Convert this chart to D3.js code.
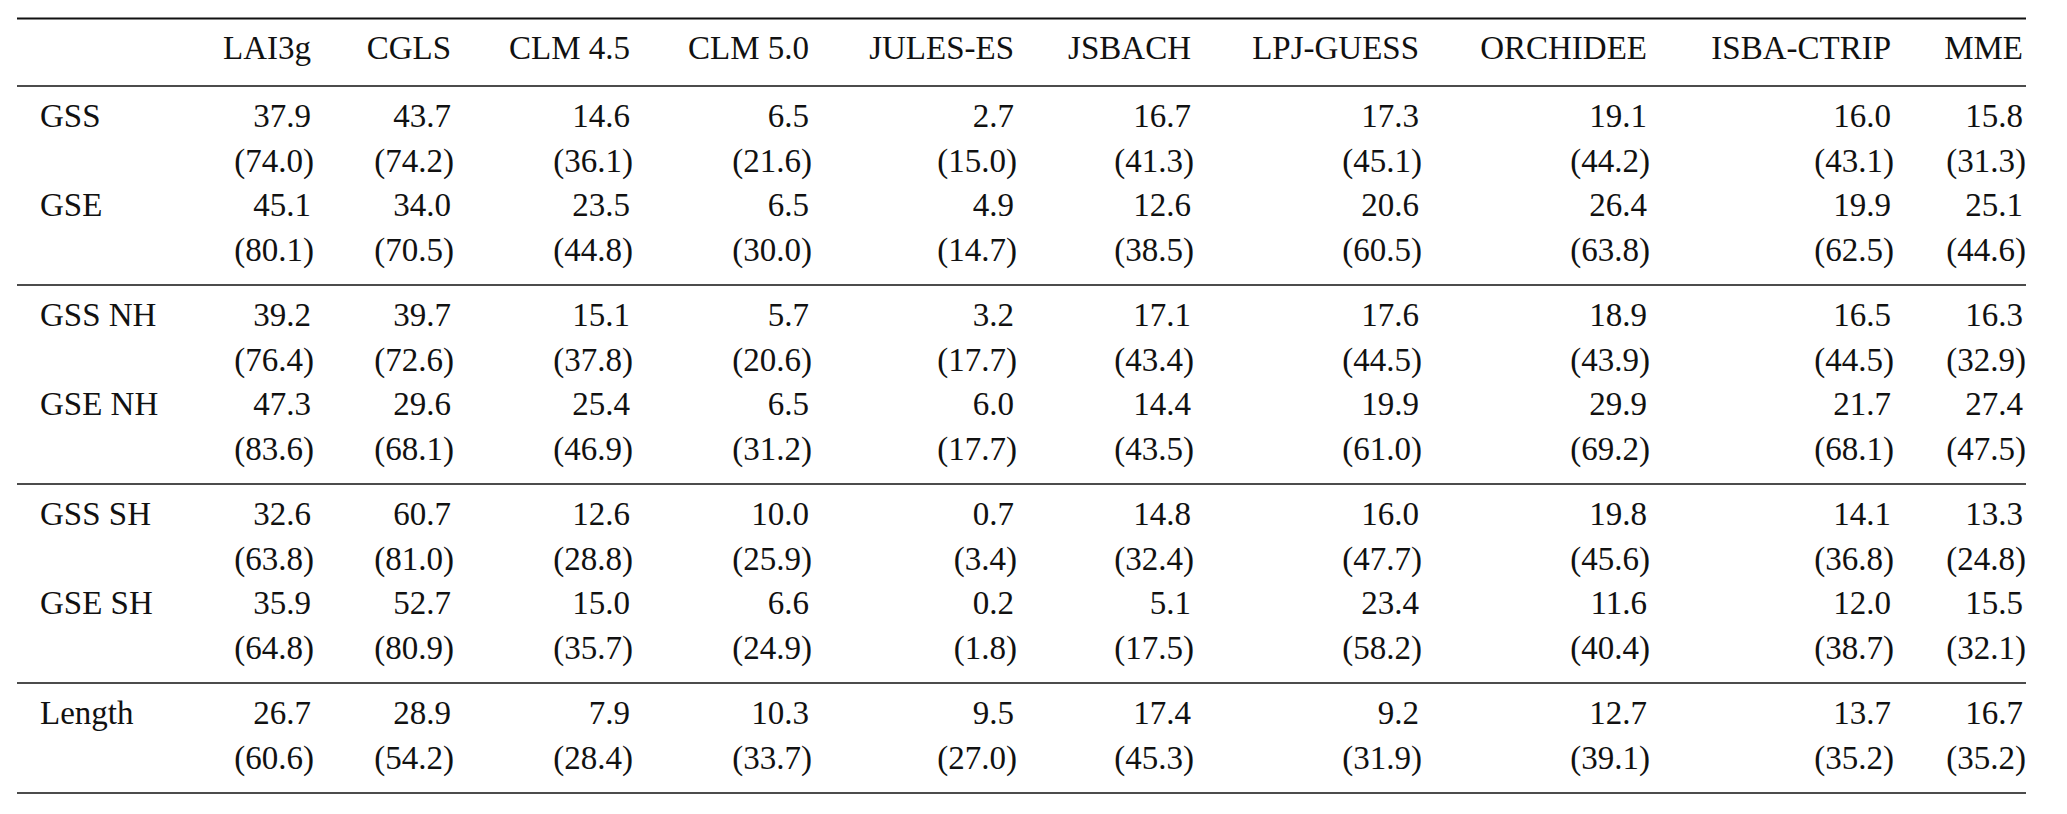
<!DOCTYPE html>
<html>
<head>
<meta charset="utf-8">
<script src="https://cdn.jsdelivr.net/npm/d3@7"></script>
<style>
  body { margin: 0; background: #fff; }
</style>
</head>
<body>
<svg id="table"></svg>
<script>
const columns = ["LAI3g", "CGLS", "CLM 4.5", "CLM 5.0", "JULES-ES", "JSBACH", "LPJ-GUESS", "ORCHIDEE", "ISBA-CTRIP", "MME"];
const rowLabels = ["GSS", "GSE", "GSS NH", "GSE NH", "GSS SH", "GSE SH", "Length"];

// first number of each cell
const values = [
  [37.9, 43.7, 14.6, 6.5, 2.7, 16.7, 17.3, 19.1, 16.0, 15.8],
  [45.1, 34.0, 23.5, 6.5, 4.9, 12.6, 20.6, 26.4, 19.9, 25.1],
  [39.2, 39.7, 15.1, 5.7, 3.2, 17.1, 17.6, 18.9, 16.5, 16.3],
  [47.3, 29.6, 25.4, 6.5, 6.0, 14.4, 19.9, 29.9, 21.7, 27.4],
  [32.6, 60.7, 12.6, 10.0, 0.7, 14.8, 16.0, 19.8, 14.1, 13.3],
  [35.9, 52.7, 15.0, 6.6, 0.2, 5.1, 23.4, 11.6, 12.0, 15.5],
  [26.7, 28.9, 7.9, 10.3, 9.5, 17.4, 9.2, 12.7, 13.7, 16.7]
];
// values in parentheses
const paren = [
  [74.0, 74.2, 36.1, 21.6, 15.0, 41.3, 45.1, 44.2, 43.1, 31.3],
  [80.1, 70.5, 44.8, 30.0, 14.7, 38.5, 60.5, 63.8, 62.5, 44.6],
  [76.4, 72.6, 37.8, 20.6, 17.7, 43.4, 44.5, 43.9, 44.5, 32.9],
  [83.6, 68.1, 46.9, 31.2, 17.7, 43.5, 61.0, 69.2, 68.1, 47.5],
  [63.8, 81.0, 28.8, 25.9, 3.4, 32.4, 47.7, 45.6, 36.8, 24.8],
  [64.8, 80.9, 35.7, 24.9, 1.8, 17.5, 58.2, 40.4, 38.7, 32.1],
  [60.6, 54.2, 28.4, 33.7, 27.0, 45.3, 31.9, 39.1, 35.2, 35.2]
];
const groups = [[0, 1], [2, 3], [4, 5], [6]];

const width = 2067, height = 814;
const svg = d3.select("#table").attr("width", width).attr("height", height)
  .attr("font-family", "'Liberation Serif', 'Times New Roman', Times, 'DejaVu Serif', serif")
  .attr("font-size", 33)
  .attr("fill", "#111");

// right edges of columns (layout)
const colRight = [311, 451, 630, 809, 1014, 1191, 1419, 1647, 1891, 2023];
const x = d3.scaleOrdinal().domain(columns).range(colRight);

const left = 17, right = 2026;
const lineH = 44.5;
const groupTop = [86, 285, 484, 683];
const bottom = 793;

function hline(y, w) {
  svg.append("line").attr("x1", left).attr("x2", right)
    .attr("y1", y).attr("y2", y).attr("stroke", "#111").attr("stroke-width", w);
}
hline(18.5, 2);
groupTop.forEach(y => hline(y, 1.6));
hline(bottom, 1.6);

// header
svg.selectAll("text.head").data(columns).join("text")
  .attr("class", "head")
  .attr("x", d => x(d)).attr("y", 59)
  .attr("text-anchor", "end")
  .text(d => d);

const fmt = d3.format(".1f");
groups.forEach((g, gi) => {
  g.forEach((ri, k) => {
    const y0 = groupTop[gi] + 41 + k * 2 * lineH;
    svg.append("text").attr("x", 40).attr("y", y0).text(rowLabels[ri]);
    svg.selectAll(null).data(values[ri]).join("text")
      .attr("x", (d, i) => x(columns[i])).attr("y", y0)
      .attr("text-anchor", "end").text(d => fmt(d));
    svg.selectAll(null).data(paren[ri]).join("text")
      .attr("x", (d, i) => x(columns[i]) + 3).attr("y", y0 + lineH)
      .attr("text-anchor", "end").text(d => `(${fmt(d)})`);
  });
});
</script>
</body>
</html>
